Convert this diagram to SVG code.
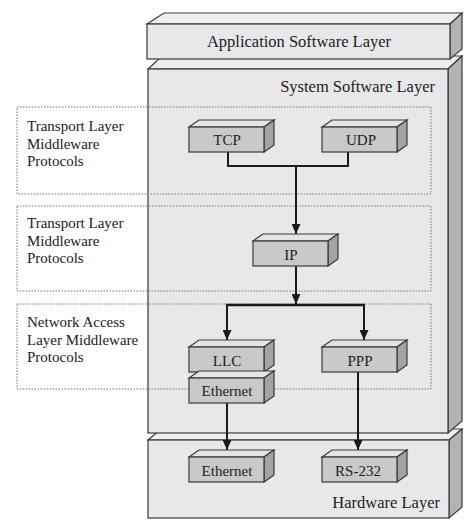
<svg xmlns="http://www.w3.org/2000/svg" xmlns:xlink="http://www.w3.org/1999/xlink" width="474" height="530" viewBox="0 0 474 530">
<style>
.lf{fill:#e8e8ea;stroke:#3a3a3a;stroke-width:1.2}
.lt{fill:#eeeef0;stroke:#3a3a3a;stroke-width:1.2}
.ls{fill:#b3b3b5;stroke:#3a3a3a;stroke-width:1.2}
.nf{fill:#c9c9ca;stroke:#3a3a3a;stroke-width:1.2}
.nt{fill:#e4e4e5;stroke:#3a3a3a;stroke-width:1.2}
.ns{fill:#a3a3a5;stroke:#3a3a3a;stroke-width:1.2}
.dot{fill:none;stroke:#777;stroke-width:1;stroke-dasharray:1.5 1.5}
.con{fill:none;stroke:#1a1a1a;stroke-width:2}
text{font-family:"Liberation Serif","Times New Roman",serif;fill:#222}
.big{font-size:16.5px}
.lab{font-size:15px}
.nl{font-size:15px;text-anchor:middle}
</style>
<defs>
<g id="box">
<polygon class="nt" points="0,0 10,-7 85,-7 75,0"/>
<polygon class="ns" points="75,0 85,-7 85,18 75,25"/>
<rect class="nf" x="0" y="0" width="75" height="25"/>
</g>
<marker id="arr" markerUnits="userSpaceOnUse" markerWidth="10" markerHeight="9" refX="10" refY="4.5" orient="auto">
<path d="M0,0 L10,4.5 L0,9 z" fill="#1a1a1a"/>
</marker>
</defs>
<rect width="474" height="530" fill="#fff"/>
<g id="hardware-layer">
<polygon class="lt" points="148,440 161,429 462,429 449,440"/>
<polygon class="ls" points="449,440 462,429 462,507 449,518"/>
<rect class="lf" x="148" y="440" width="301" height="78"/>
<text class="big" x="440" y="508" text-anchor="end">Hardware Layer</text>
</g>
<g id="system-layer">
<polygon class="lt" points="148,69 162,56 462,56 448,69"/>
<polygon class="ls" points="448,69 462,56 462,421 448,433"/>
<rect class="lf" x="148" y="69" width="300" height="364"/>
<text class="big" x="435" y="92" text-anchor="end">System Software Layer</text>
</g>
<g id="application-layer">
<polygon class="lt" points="147,24 164,13 462,13 450,24"/>
<polygon class="ls" points="450,24 462,13 462,49 450,59"/>
<rect class="lf" x="147" y="24" width="303" height="35"/>
<text class="big" x="299" y="47" text-anchor="middle">Application Software Layer</text>
</g>
<g id="group-transport-1">
<rect class="dot" x="17" y="107" width="414" height="87"/>
<text class="lab" x="27" y="131">Transport Layer</text>
<text class="lab" x="27" y="148.5">Middleware</text>
<text class="lab" x="27" y="166">Protocols</text>
</g>
<g id="group-transport-2">
<rect class="dot" x="17" y="206" width="414" height="85"/>
<text class="lab" x="27" y="228">Transport Layer</text>
<text class="lab" x="27" y="245.5">Middleware</text>
<text class="lab" x="27" y="263">Protocols</text>
</g>
<g id="group-network-access">
<rect class="dot" x="17" y="304" width="414" height="85"/>
<text class="lab" x="27" y="327">Network Access</text>
<text class="lab" x="27" y="344.5">Layer Middleware</text>
<text class="lab" x="27" y="362">Protocols</text>
</g>
<g id="connectors">
<polyline class="con" points="228,152 228,166 348,166 348,152"/>
<line class="con" x1="296" y1="166" x2="296" y2="234" marker-end="url(#arr)"/>
<line class="con" x1="296" y1="266" x2="296" y2="304" marker-end="url(#arr)"/>
<line class="con" x1="226" y1="305" x2="365" y2="305" style="stroke-width:2.5"/>
<line class="con" x1="227" y1="304" x2="227" y2="340" marker-end="url(#arr)"/>
<line class="con" x1="364" y1="304" x2="364" y2="340" marker-end="url(#arr)"/>
<line class="con" x1="227" y1="403" x2="227" y2="450" marker-end="url(#arr)"/>
<line class="con" x1="358" y1="372" x2="358" y2="450" marker-end="url(#arr)"/>
</g>
<g id="node-tcp"><use xlink:href="#box" x="189" y="127"/><text class="nl" x="227" y="145">TCP</text></g>
<g id="node-udp"><use xlink:href="#box" x="322" y="127"/><text class="nl" x="361" y="145">UDP</text></g>
<g id="node-ip"><use xlink:href="#box" x="253" y="241"/><text class="nl" x="291" y="260">IP</text></g>
<g id="node-llc"><use xlink:href="#box" x="189" y="347"/><text class="nl" x="227" y="366">LLC</text></g>
<g id="node-ethernet-mw"><use xlink:href="#box" x="189" y="378"/><text class="nl" x="227" y="396">Ethernet</text></g>
<g id="node-ppp"><use xlink:href="#box" x="322" y="347"/><text class="nl" x="360" y="366">PPP</text></g>
<g id="node-ethernet-hw"><use xlink:href="#box" x="189" y="457"/><text class="nl" x="227" y="476">Ethernet</text></g>
<g id="node-rs232"><use xlink:href="#box" x="322" y="457"/><text class="nl" x="358" y="476">RS-232</text></g>
</svg>
